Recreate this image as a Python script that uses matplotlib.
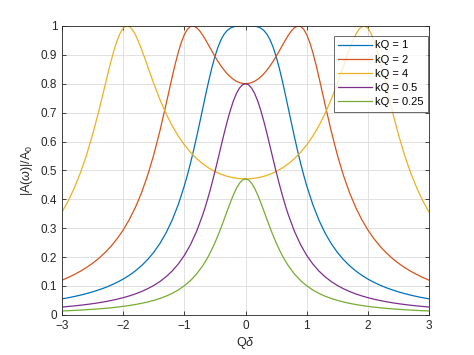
import numpy as np
import matplotlib
matplotlib.use("Agg")
import matplotlib.pyplot as plt

plt.rcParams['font.family'] = ['Liberation Sans', 'DejaVu Sans']
plt.rcParams['mathtext.fontset'] = 'custom'
plt.rcParams['mathtext.rm'] = 'Liberation Sans'
plt.rcParams['mathtext.it'] = 'Liberation Sans:italic'

# sample positions (Q*delta) for each curve
x_kq1 = np.concatenate([np.linspace(-3, -1.0, 21), np.linspace(-0.95, 0.95, 39), np.linspace(1.0, 3, 21)])
x_kq2 = np.concatenate([np.linspace(-3, -1.3, 18), np.linspace(-1.2, 1.2, 49), np.linspace(1.3, 3, 18)])
x_kq4 = np.concatenate([np.linspace(-3, -2.4, 7), np.linspace(-2.3, -1.6, 15), np.linspace(-1.5, 1.5, 31),
                        np.linspace(1.6, 2.3, 15), np.linspace(2.4, 3, 7)])
x_kq05 = np.concatenate([np.linspace(-3, -0.8, 23), np.linspace(-0.7, 0.7, 29), np.linspace(0.8, 3, 23)])
x_kq025 = x_kq05

kq1 = [0.0555, 0.0593, 0.0636, 0.0684, 0.0738, 0.0797, 0.0865, 0.0941, 0.1028, 0.1127,
       0.1240, 0.1372, 0.1525, 0.1705, 0.1917, 0.2169, 0.2472, 0.2837, 0.3280, 0.3819, 0.4472,
       0.4846, 0.5253, 0.5691, 0.6156, 0.6644, 0.7142, 0.7638, 0.8115, 0.8556, 0.8944,
       0.9269, 0.9524, 0.9713, 0.9842, 0.9923, 0.9968, 0.9990, 0.9998, 1.0000, 1.0000,
       1.0000, 0.9998, 0.9990, 0.9968, 0.9923, 0.9842, 0.9713, 0.9524, 0.9269,
       0.8944, 0.8556, 0.8115, 0.7638, 0.7142, 0.6644, 0.6156, 0.5691, 0.5253, 0.4846,
       0.4472, 0.3819, 0.3280, 0.2837, 0.2472, 0.2169, 0.1917, 0.1705, 0.1525, 0.1372, 0.1240,
       0.1127, 0.1028, 0.0941, 0.0865, 0.0797, 0.0738, 0.0684, 0.0636, 0.0593, 0.0555]
kq2 = [0.1203, 0.1294, 0.1397, 0.1511, 0.1641, 0.1789, 0.1957, 0.2151, 0.2375, 0.2636,
       0.2941, 0.3301, 0.3727, 0.4233, 0.4836, 0.5547, 0.6370, 0.7286,
       0.8231, 0.8678, 0.9085, 0.9431, 0.9701, 0.9886, 0.9982, 0.9996, 0.9940, 0.9829,
       0.9678, 0.9503, 0.9317, 0.9128, 0.8944, 0.8771, 0.8613, 0.8470, 0.8346, 0.8240,
       0.8154, 0.8086, 0.8038, 0.8010, 0.8000,
       0.8010, 0.8038, 0.8086, 0.8154, 0.8240, 0.8346, 0.8470, 0.8613, 0.8771, 0.8944,
       0.9128, 0.9317, 0.9503, 0.9678, 0.9829, 0.9940, 0.9996, 0.9982, 0.9886, 0.9701,
       0.9431, 0.9085, 0.8678, 0.8231,
       0.7286, 0.6370, 0.5547, 0.4836, 0.4233, 0.3727, 0.3301, 0.2941,
       0.2636, 0.2375, 0.2151, 0.1957, 0.1789, 0.1641, 0.1511, 0.1397, 0.1294, 0.1203]
kq4 = [0.3560, 0.3944, 0.4393, 0.4919, 0.5534, 0.6247, 0.7053,
       0.7923, 0.8360, 0.8781, 0.9166, 0.9496, 0.9754, 0.9923, 0.9997, 0.9976, 0.9869,
       0.9690, 0.9457, 0.9187, 0.8895, 0.8594,
       0.8000, 0.7451, 0.6966, 0.6546, 0.6186, 0.5882, 0.5625, 0.5409, 0.5229, 0.5081,
       0.4961, 0.4867, 0.4795, 0.4745, 0.4716, 0.4706,
       0.4716, 0.4745, 0.4795, 0.4867, 0.4961, 0.5081, 0.5229, 0.5409, 0.5625, 0.5882,
       0.6186, 0.6546, 0.6966, 0.7451, 0.8000,
       0.8594, 0.8895, 0.9187, 0.9457, 0.9690, 0.9869, 0.9976, 0.9997, 0.9923, 0.9754,
       0.9496, 0.9166, 0.8781, 0.8360, 0.7923,
       0.7053, 0.6247, 0.5534, 0.4919, 0.4393, 0.3944, 0.3560]
kq05 = [0.0272, 0.0291, 0.0311, 0.0334, 0.0360, 0.0388, 0.0420, 0.0456, 0.0497, 0.0543,
        0.0596, 0.0657, 0.0727, 0.0810, 0.0906, 0.1020, 0.1156, 0.1320, 0.1518, 0.1761,
        0.2060, 0.2431, 0.2892,
        0.3462, 0.3792, 0.4154, 0.4545, 0.4961, 0.5397, 0.5840, 0.6278, 0.6693, 0.7071,
        0.7396, 0.7657, 0.7847, 0.7962, 0.8000,
        0.7962, 0.7847, 0.7657, 0.7396, 0.7071, 0.6693, 0.6278, 0.5840, 0.5397, 0.4961,
        0.4545, 0.4154, 0.3792, 0.3462,
        0.2892, 0.2431, 0.2060, 0.1761, 0.1518, 0.1320, 0.1156, 0.1020, 0.0906, 0.0810,
        0.0727, 0.0657, 0.0596, 0.0543, 0.0497, 0.0456, 0.0420, 0.0388, 0.0360, 0.0334,
        0.0311, 0.0291, 0.0272]
kq025 = [0.0135, 0.0145, 0.0155, 0.0166, 0.0179, 0.0193, 0.0208, 0.0226, 0.0246, 0.0269,
         0.0295, 0.0325, 0.0360, 0.0400, 0.0447, 0.0503, 0.0569, 0.0648, 0.0744, 0.0862,
         0.1008, 0.1188, 0.1415,
         0.1701, 0.1869, 0.2058, 0.2268, 0.2499, 0.2751, 0.3021, 0.3306, 0.3596, 0.3881,
         0.4146, 0.4376, 0.4554, 0.4667, 0.4706,
         0.4667, 0.4554, 0.4376, 0.4146, 0.3881, 0.3596, 0.3306, 0.3021, 0.2751, 0.2499,
         0.2268, 0.2058, 0.1869, 0.1701,
         0.1415, 0.1188, 0.1008, 0.0862, 0.0744, 0.0648, 0.0569, 0.0503, 0.0447, 0.0400,
         0.0360, 0.0325, 0.0295, 0.0269, 0.0246, 0.0226, 0.0208, 0.0193, 0.0179, 0.0166,
         0.0155, 0.0145, 0.0135]

labels = ['kQ = 1', 'kQ = 2', 'kQ = 4', 'kQ = 0.5', 'kQ = 0.25']
xs = [x_kq1, x_kq2, x_kq4, x_kq05, x_kq025]
series = [kq1, kq2, kq4, kq05, kq025]
colors = ['#0072BD', '#D95319', '#EDB120', '#7E2F8E', '#77AC30']
y_ticklabels = ['0', '0.1', '0.2', '0.3', '0.4', '0.5', '0.6', '0.7', '0.8', '0.9', '1']
x_ticks = [-3, -2, -1, 0, 1, 2, 3]

fig = plt.figure(figsize=(4.74, 3.55), dpi=100)
ax = fig.add_axes([0.131, 0.113, 0.774, 0.814])

for x, y, lab, c in zip(xs, series, labels, colors):
    ax.plot(x, y, color=c, lw=0.9, label=lab)

ax.set_xlim(-3, 3)
ax.set_ylim(0, 1)
ax.set_xticks(x_ticks)
ax.set_yticks(np.linspace(0, 1, 11))
ax.set_yticklabels(y_ticklabels)
ax.grid(True, color='#DCDCDC', lw=0.6)
ax.set_axisbelow(True)
ax.tick_params(direction='in', length=3, width=0.6, colors='#262626', labelsize=8.5,
               top=True, right=True)
for s in ax.spines.values():
    s.set_color('#262626')
    s.set_linewidth(0.6)

ax.set_xlabel(r'Q$\delta$', fontsize=9, color='#262626', labelpad=2)
ax.set_ylabel(r'|A($\omega$)|/A$_0$', fontsize=9, color='#262626', labelpad=4)

leg = ax.legend(loc='upper right', fontsize=8, frameon=True, fancybox=False,
                edgecolor='#262626', handlelength=3.0, handletextpad=0.3,
                borderpad=0.4, labelspacing=0.38, borderaxespad=0,
                bbox_to_anchor=(0.997, 0.965))
leg.get_frame().set_linewidth(0.6)

fig.savefig('out.png', dpi=100)
